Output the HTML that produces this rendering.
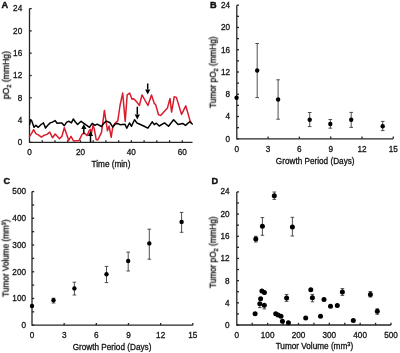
<!DOCTYPE html>
<html><head><meta charset="utf-8"><title>Tumor oxygenation figure</title>
<style>
html,body{margin:0;padding:0;background:#fff;}
body{width:400px;height:353px;overflow:hidden;}
svg{display:block;font-family:"Liberation Sans",sans-serif;filter:blur(0.3px);}
text{will-change:transform;}
</style></head>
<body>
<svg width="400" height="353" viewBox="0 0 400 353">
<rect width="400" height="353" fill="#fff"/>
<text x="1.40" y="7.60" text-anchor="start" font-size="9.2" font-weight="bold" fill="#111" stroke="#111" stroke-width="0.4" >A</text>
<path d="M29.50,8.60 V142.40 H192.51" fill="none" stroke="#262626" stroke-width="1.3"/>
<line x1="29.50" y1="142.40" x2="31.70" y2="142.40" stroke="#262626" stroke-width="1.3"/>
<line x1="29.50" y1="120.10" x2="31.70" y2="120.10" stroke="#262626" stroke-width="1.3"/>
<line x1="29.50" y1="97.80" x2="31.70" y2="97.80" stroke="#262626" stroke-width="1.3"/>
<line x1="29.50" y1="75.50" x2="31.70" y2="75.50" stroke="#262626" stroke-width="1.3"/>
<line x1="29.50" y1="53.20" x2="31.70" y2="53.20" stroke="#262626" stroke-width="1.3"/>
<line x1="29.50" y1="30.90" x2="31.70" y2="30.90" stroke="#262626" stroke-width="1.3"/>
<line x1="29.50" y1="8.60" x2="31.70" y2="8.60" stroke="#262626" stroke-width="1.3"/>
<line x1="42.23" y1="142.40" x2="42.23" y2="140.20" stroke="#262626" stroke-width="1.3"/>
<line x1="54.97" y1="142.40" x2="54.97" y2="140.20" stroke="#262626" stroke-width="1.3"/>
<line x1="67.71" y1="142.40" x2="67.71" y2="140.20" stroke="#262626" stroke-width="1.3"/>
<line x1="80.44" y1="142.40" x2="80.44" y2="140.20" stroke="#262626" stroke-width="1.3"/>
<line x1="93.18" y1="142.40" x2="93.18" y2="140.20" stroke="#262626" stroke-width="1.3"/>
<line x1="105.91" y1="142.40" x2="105.91" y2="140.20" stroke="#262626" stroke-width="1.3"/>
<line x1="118.65" y1="142.40" x2="118.65" y2="140.20" stroke="#262626" stroke-width="1.3"/>
<line x1="131.38" y1="142.40" x2="131.38" y2="140.20" stroke="#262626" stroke-width="1.3"/>
<line x1="144.12" y1="142.40" x2="144.12" y2="140.20" stroke="#262626" stroke-width="1.3"/>
<line x1="156.85" y1="142.40" x2="156.85" y2="140.20" stroke="#262626" stroke-width="1.3"/>
<line x1="169.59" y1="142.40" x2="169.59" y2="140.20" stroke="#262626" stroke-width="1.3"/>
<line x1="182.32" y1="142.40" x2="182.32" y2="140.20" stroke="#262626" stroke-width="1.3"/>
<text x="22.20" y="145.35" text-anchor="end" font-size="8.2" font-weight="normal" fill="#151515" stroke="#151515" stroke-width="0.3" >0</text>
<text x="22.20" y="123.05" text-anchor="end" font-size="8.2" font-weight="normal" fill="#151515" stroke="#151515" stroke-width="0.3" >4</text>
<text x="22.20" y="100.75" text-anchor="end" font-size="8.2" font-weight="normal" fill="#151515" stroke="#151515" stroke-width="0.3" >8</text>
<text x="22.20" y="78.45" text-anchor="end" font-size="8.2" font-weight="normal" fill="#151515" stroke="#151515" stroke-width="0.3" >12</text>
<text x="22.20" y="56.15" text-anchor="end" font-size="8.2" font-weight="normal" fill="#151515" stroke="#151515" stroke-width="0.3" >16</text>
<text x="22.20" y="33.85" text-anchor="end" font-size="8.2" font-weight="normal" fill="#151515" stroke="#151515" stroke-width="0.3" >20</text>
<text x="22.20" y="10.95" text-anchor="end" font-size="8.2" font-weight="normal" fill="#151515" stroke="#151515" stroke-width="0.3" >24</text>
<text x="29.50" y="155.30" text-anchor="middle" font-size="8.2" font-weight="normal" fill="#151515" stroke="#151515" stroke-width="0.3" >0</text>
<text x="80.44" y="155.30" text-anchor="middle" font-size="8.2" font-weight="normal" fill="#151515" stroke="#151515" stroke-width="0.3" >20</text>
<text x="131.38" y="155.30" text-anchor="middle" font-size="8.2" font-weight="normal" fill="#151515" stroke="#151515" stroke-width="0.3" >40</text>
<text x="182.32" y="155.30" text-anchor="middle" font-size="8.2" font-weight="normal" fill="#151515" stroke="#151515" stroke-width="0.3" >60</text>
<text x="111.00" y="167.20" text-anchor="middle" font-size="8.2" font-weight="normal" fill="#151515" stroke="#151515" stroke-width="0.3" >Time (min)</text>
<text transform="translate(8.90,75.20) rotate(-90)" x="0" y="0" text-anchor="middle" font-size="8.6" fill="#151515" stroke="#151515" stroke-width="0.3">pO<tspan font-size="5.6" dy="1.6">2</tspan><tspan dy="-1.6"> </tspan>(mmHg)</text>
<polyline points="29.6,136.4 31.6,133.3 33.6,129.7 35.9,133.7 38.7,135.2 41.5,137.2 44.3,135.2 47,134.4 49.8,132.1 52.5,137.8 55.2,134 59.5,138.8 61.9,136.4 64.3,127.7 66.3,133.3 68.7,140.4 71,136.4 73.5,141 79.1,140.4 82.3,134 83.9,132.9 85.1,133.7 87.1,135.6 89.1,130.9 90.3,129.3 91.4,133.3 93,125.3 94.2,128.5 96.2,139.6 97.8,140 101.5,132.4 104.4,110.4 106.1,122.2 107.5,130.8 109.1,126 111.2,137.3 112.8,126.5 115,123.3 117.8,120.9 120.1,105 122.7,93.1 125.2,121.4 127.2,94.8 129.7,93.1 132,99.3 133.7,98.8 136.5,101.6 139.4,105.5 142,94.9 147.9,105.5 151.5,94.9 154.3,103.4 155.7,104.8 158.5,114.7 160.7,115.4 167.4,108.1 170,98.5 171.6,112.1 174.2,96.8 176.4,97.4 181.5,114.4 185.8,105.9 190,120.6 191.2,122.9" fill="none" stroke="#d81c2c" stroke-width="1.5" stroke-linejoin="round" stroke-linecap="round"/>
<polyline points="29.7,124.5 30.4,119.8 31.6,120.6 34,127.3 35.9,125.3 38.3,127.3 41.1,124.5 43.5,122.9 45.5,128.1 47.8,125.3 50.2,122.9 52.4,122.1 55.2,120.6 57.1,123.3 59.5,122.9 61.9,122.9 64.3,125.7 66.7,122.1 69,121.3 71.4,122.9 73.3,119 75.2,121.7 77.6,124.5 81.1,121.3 83.9,123.3 86.7,125.3 89.5,127.3 92.2,123.3 95,125.3 97.2,124.2 101.5,126.5 104.2,122.8 106.4,121.1 110.1,122.8 112.8,127.1 115.5,123.8 118,123.6 120,124.7 125,124.3 126.8,128.2 129.5,123 131.5,126.3 134.5,119.8 137,123 143.7,126 147.9,128.2 152.2,121.8 154.3,124.6 156.4,123.2 159.2,126 164.5,122.9 168.5,126.3 173.6,119.7 178.1,124.6 182.7,123.4 185.5,125.4 189.7,121.7 192.3,124" fill="none" stroke="#000" stroke-width="1.5" stroke-linejoin="round" stroke-linecap="round"/>
<line x1="83.8" y1="134.2" x2="83.8" y2="129.0" stroke="#000" stroke-width="1.5"/>
<path d="M81.20,129.00 L86.40,129.00 L83.80,124.00 Z" fill="#000"/>
<line x1="90.5" y1="142.0" x2="90.5" y2="136.0" stroke="#000" stroke-width="1.5"/>
<path d="M87.90,136.00 L93.10,136.00 L90.50,131.00 Z" fill="#000"/>
<line x1="137.3" y1="106.7" x2="137.3" y2="114.4" stroke="#000" stroke-width="1.5"/>
<path d="M134.70,114.40 L139.90,114.40 L137.30,119.40 Z" fill="#000"/>
<line x1="147.7" y1="83.5" x2="147.7" y2="89.5" stroke="#000" stroke-width="1.5"/>
<path d="M145.10,89.50 L150.30,89.50 L147.70,94.50 Z" fill="#000"/>
<text x="210.00" y="7.70" text-anchor="start" font-size="9.2" font-weight="bold" fill="#111" stroke="#111" stroke-width="0.4" >B</text>
<path d="M236.80,5.20 V138.80 H393.30" fill="none" stroke="#262626" stroke-width="1.3"/>
<line x1="236.80" y1="138.80" x2="239.00" y2="138.80" stroke="#262626" stroke-width="1.3"/>
<line x1="236.80" y1="127.67" x2="239.00" y2="127.67" stroke="#262626" stroke-width="1.3"/>
<line x1="236.80" y1="116.53" x2="239.00" y2="116.53" stroke="#262626" stroke-width="1.3"/>
<line x1="236.80" y1="105.40" x2="239.00" y2="105.40" stroke="#262626" stroke-width="1.3"/>
<line x1="236.80" y1="94.27" x2="239.00" y2="94.27" stroke="#262626" stroke-width="1.3"/>
<line x1="236.80" y1="83.13" x2="239.00" y2="83.13" stroke="#262626" stroke-width="1.3"/>
<line x1="236.80" y1="72.00" x2="239.00" y2="72.00" stroke="#262626" stroke-width="1.3"/>
<line x1="236.80" y1="60.87" x2="239.00" y2="60.87" stroke="#262626" stroke-width="1.3"/>
<line x1="236.80" y1="49.73" x2="239.00" y2="49.73" stroke="#262626" stroke-width="1.3"/>
<line x1="236.80" y1="38.60" x2="239.00" y2="38.60" stroke="#262626" stroke-width="1.3"/>
<line x1="236.80" y1="27.47" x2="239.00" y2="27.47" stroke="#262626" stroke-width="1.3"/>
<line x1="236.80" y1="16.33" x2="239.00" y2="16.33" stroke="#262626" stroke-width="1.3"/>
<line x1="236.80" y1="5.20" x2="239.00" y2="5.20" stroke="#262626" stroke-width="1.3"/>
<line x1="268.10" y1="138.80" x2="268.10" y2="136.60" stroke="#262626" stroke-width="1.3"/>
<line x1="299.40" y1="138.80" x2="299.40" y2="136.60" stroke="#262626" stroke-width="1.3"/>
<line x1="330.70" y1="138.80" x2="330.70" y2="136.60" stroke="#262626" stroke-width="1.3"/>
<line x1="362.00" y1="138.80" x2="362.00" y2="136.60" stroke="#262626" stroke-width="1.3"/>
<line x1="393.30" y1="138.80" x2="393.30" y2="136.60" stroke="#262626" stroke-width="1.3"/>
<text x="230.00" y="141.75" text-anchor="end" font-size="8.2" font-weight="normal" fill="#151515" stroke="#151515" stroke-width="0.3" >0</text>
<text x="230.00" y="119.48" text-anchor="end" font-size="8.2" font-weight="normal" fill="#151515" stroke="#151515" stroke-width="0.3" >4</text>
<text x="230.00" y="97.22" text-anchor="end" font-size="8.2" font-weight="normal" fill="#151515" stroke="#151515" stroke-width="0.3" >8</text>
<text x="230.00" y="74.95" text-anchor="end" font-size="8.2" font-weight="normal" fill="#151515" stroke="#151515" stroke-width="0.3" >12</text>
<text x="230.00" y="52.68" text-anchor="end" font-size="8.2" font-weight="normal" fill="#151515" stroke="#151515" stroke-width="0.3" >16</text>
<text x="230.00" y="30.42" text-anchor="end" font-size="8.2" font-weight="normal" fill="#151515" stroke="#151515" stroke-width="0.3" >20</text>
<text x="230.00" y="7.55" text-anchor="end" font-size="8.2" font-weight="normal" fill="#151515" stroke="#151515" stroke-width="0.3" >24</text>
<text x="236.80" y="151.50" text-anchor="middle" font-size="8.2" font-weight="normal" fill="#151515" stroke="#151515" stroke-width="0.3" >0</text>
<text x="268.10" y="151.50" text-anchor="middle" font-size="8.2" font-weight="normal" fill="#151515" stroke="#151515" stroke-width="0.3" >3</text>
<text x="299.40" y="151.50" text-anchor="middle" font-size="8.2" font-weight="normal" fill="#151515" stroke="#151515" stroke-width="0.3" >6</text>
<text x="330.70" y="151.50" text-anchor="middle" font-size="8.2" font-weight="normal" fill="#151515" stroke="#151515" stroke-width="0.3" >9</text>
<text x="362.00" y="151.50" text-anchor="middle" font-size="8.2" font-weight="normal" fill="#151515" stroke="#151515" stroke-width="0.3" >12</text>
<text x="393.30" y="151.50" text-anchor="middle" font-size="8.2" font-weight="normal" fill="#151515" stroke="#151515" stroke-width="0.3" >15</text>
<text x="315.20" y="163.60" text-anchor="middle" font-size="8.2" font-weight="normal" fill="#151515" stroke="#151515" stroke-width="0.3" >Growth Period (Days)</text>
<text transform="translate(215.80,72.30) rotate(-90)" x="0" y="0" text-anchor="middle" font-size="8.2" fill="#151515" stroke="#151515" stroke-width="0.3">Tumor pO<tspan font-size="5.6" dy="1.6">2</tspan><tspan dy="-1.6"> </tspan>(mmHg)</text>
<path d="M257.20,43.50 V97.60 M255.40,43.50 H259.00 M255.40,97.60 H259.00" stroke="#3c3c3c" stroke-width="0.9" fill="none"/>
<path d="M278.10,79.80 V119.20 M276.30,79.80 H279.90 M276.30,119.20 H279.90" stroke="#3c3c3c" stroke-width="0.9" fill="none"/>
<path d="M309.70,112.50 V126.60 M307.90,112.50 H311.50 M307.90,126.60 H311.50" stroke="#3c3c3c" stroke-width="0.9" fill="none"/>
<path d="M330.30,119.50 V128.20 M328.50,119.50 H332.10 M328.50,128.20 H332.10" stroke="#3c3c3c" stroke-width="0.9" fill="none"/>
<path d="M351.20,112.40 V127.40 M349.40,112.40 H353.00 M349.40,127.40 H353.00" stroke="#3c3c3c" stroke-width="0.9" fill="none"/>
<path d="M382.70,121.40 V130.60 M380.90,121.40 H384.50 M380.90,130.60 H384.50" stroke="#3c3c3c" stroke-width="0.9" fill="none"/>
<circle cx="236.60" cy="97.80" r="2.2" fill="#000"/>
<circle cx="257.20" cy="70.50" r="2.2" fill="#000"/>
<circle cx="278.10" cy="99.50" r="2.2" fill="#000"/>
<circle cx="309.70" cy="119.80" r="2.2" fill="#000"/>
<circle cx="330.30" cy="124.00" r="2.2" fill="#000"/>
<circle cx="351.20" cy="119.80" r="2.2" fill="#000"/>
<circle cx="382.70" cy="126.20" r="2.2" fill="#000"/>
<text x="3.50" y="183.70" text-anchor="start" font-size="9.2" font-weight="bold" fill="#111" stroke="#111" stroke-width="0.4" >C</text>
<path d="M32.00,191.60 V325.20 H192.80" fill="none" stroke="#262626" stroke-width="1.3"/>
<line x1="32.00" y1="325.20" x2="34.20" y2="325.20" stroke="#262626" stroke-width="1.3"/>
<line x1="32.00" y1="311.84" x2="34.20" y2="311.84" stroke="#262626" stroke-width="1.3"/>
<line x1="32.00" y1="298.48" x2="34.20" y2="298.48" stroke="#262626" stroke-width="1.3"/>
<line x1="32.00" y1="285.12" x2="34.20" y2="285.12" stroke="#262626" stroke-width="1.3"/>
<line x1="32.00" y1="271.76" x2="34.20" y2="271.76" stroke="#262626" stroke-width="1.3"/>
<line x1="32.00" y1="258.40" x2="34.20" y2="258.40" stroke="#262626" stroke-width="1.3"/>
<line x1="32.00" y1="245.04" x2="34.20" y2="245.04" stroke="#262626" stroke-width="1.3"/>
<line x1="32.00" y1="231.68" x2="34.20" y2="231.68" stroke="#262626" stroke-width="1.3"/>
<line x1="32.00" y1="218.32" x2="34.20" y2="218.32" stroke="#262626" stroke-width="1.3"/>
<line x1="32.00" y1="204.96" x2="34.20" y2="204.96" stroke="#262626" stroke-width="1.3"/>
<line x1="32.00" y1="191.60" x2="34.20" y2="191.60" stroke="#262626" stroke-width="1.3"/>
<line x1="64.16" y1="325.20" x2="64.16" y2="323.00" stroke="#262626" stroke-width="1.3"/>
<line x1="96.32" y1="325.20" x2="96.32" y2="323.00" stroke="#262626" stroke-width="1.3"/>
<line x1="128.48" y1="325.20" x2="128.48" y2="323.00" stroke="#262626" stroke-width="1.3"/>
<line x1="160.64" y1="325.20" x2="160.64" y2="323.00" stroke="#262626" stroke-width="1.3"/>
<line x1="192.80" y1="325.20" x2="192.80" y2="323.00" stroke="#262626" stroke-width="1.3"/>
<text x="26.00" y="328.15" text-anchor="end" font-size="8.2" font-weight="normal" fill="#151515" stroke="#151515" stroke-width="0.3" >0</text>
<text x="26.00" y="301.43" text-anchor="end" font-size="8.2" font-weight="normal" fill="#151515" stroke="#151515" stroke-width="0.3" >100</text>
<text x="26.00" y="274.71" text-anchor="end" font-size="8.2" font-weight="normal" fill="#151515" stroke="#151515" stroke-width="0.3" >200</text>
<text x="26.00" y="247.99" text-anchor="end" font-size="8.2" font-weight="normal" fill="#151515" stroke="#151515" stroke-width="0.3" >300</text>
<text x="26.00" y="221.27" text-anchor="end" font-size="8.2" font-weight="normal" fill="#151515" stroke="#151515" stroke-width="0.3" >400</text>
<text x="26.00" y="193.95" text-anchor="end" font-size="8.2" font-weight="normal" fill="#151515" stroke="#151515" stroke-width="0.3" >500</text>
<text x="32.00" y="337.60" text-anchor="middle" font-size="8.2" font-weight="normal" fill="#151515" stroke="#151515" stroke-width="0.3" >0</text>
<text x="64.16" y="337.60" text-anchor="middle" font-size="8.2" font-weight="normal" fill="#151515" stroke="#151515" stroke-width="0.3" >3</text>
<text x="96.32" y="337.60" text-anchor="middle" font-size="8.2" font-weight="normal" fill="#151515" stroke="#151515" stroke-width="0.3" >6</text>
<text x="128.48" y="337.60" text-anchor="middle" font-size="8.2" font-weight="normal" fill="#151515" stroke="#151515" stroke-width="0.3" >9</text>
<text x="160.64" y="337.60" text-anchor="middle" font-size="8.2" font-weight="normal" fill="#151515" stroke="#151515" stroke-width="0.3" >12</text>
<text x="192.80" y="337.60" text-anchor="middle" font-size="8.2" font-weight="normal" fill="#151515" stroke="#151515" stroke-width="0.3" >15</text>
<text x="112.00" y="349.60" text-anchor="middle" font-size="8.2" font-weight="normal" fill="#151515" stroke="#151515" stroke-width="0.3" >Growth Period (Days)</text>
<text transform="translate(8.60,258.20) rotate(-90)" x="0" y="0" text-anchor="middle" font-size="8.2" fill="#151515" stroke="#151515" stroke-width="0.3">Tumor Volume (mm<tspan font-size="5.6" dy="-3">3</tspan><tspan dy="3">)</tspan></text>
<path d="M53.50,298.20 V303.00 M51.70,298.20 H55.30 M51.70,303.00 H55.30" stroke="#3c3c3c" stroke-width="0.9" fill="none"/>
<path d="M74.40,282.20 V295.00 M72.60,282.20 H76.20 M72.60,295.00 H76.20" stroke="#3c3c3c" stroke-width="0.9" fill="none"/>
<path d="M106.50,266.40 V282.60 M104.70,266.40 H108.30 M104.70,282.60 H108.30" stroke="#3c3c3c" stroke-width="0.9" fill="none"/>
<path d="M128.20,252.10 V271.00 M126.40,252.10 H130.00 M126.40,271.00 H130.00" stroke="#3c3c3c" stroke-width="0.9" fill="none"/>
<path d="M149.30,229.20 V259.20 M147.50,229.20 H151.10 M147.50,259.20 H151.10" stroke="#3c3c3c" stroke-width="0.9" fill="none"/>
<path d="M181.60,212.40 V232.30 M179.80,212.40 H183.40 M179.80,232.30 H183.40" stroke="#3c3c3c" stroke-width="0.9" fill="none"/>
<circle cx="32.00" cy="306.00" r="2.2" fill="#000"/>
<circle cx="53.50" cy="300.20" r="2.2" fill="#000"/>
<circle cx="74.40" cy="288.40" r="2.2" fill="#000"/>
<circle cx="106.50" cy="274.30" r="2.2" fill="#000"/>
<circle cx="128.20" cy="261.00" r="2.2" fill="#000"/>
<circle cx="149.30" cy="243.40" r="2.2" fill="#000"/>
<circle cx="181.60" cy="221.90" r="2.2" fill="#000"/>
<text x="211.60" y="184.40" text-anchor="start" font-size="9.2" font-weight="bold" fill="#111" stroke="#111" stroke-width="0.4" >D</text>
<path d="M236.80,191.90 V325.00 H391.00" fill="none" stroke="#262626" stroke-width="1.3"/>
<line x1="236.80" y1="325.00" x2="239.00" y2="325.00" stroke="#262626" stroke-width="1.3"/>
<line x1="236.80" y1="313.91" x2="239.00" y2="313.91" stroke="#262626" stroke-width="1.3"/>
<line x1="236.80" y1="302.82" x2="239.00" y2="302.82" stroke="#262626" stroke-width="1.3"/>
<line x1="236.80" y1="291.73" x2="239.00" y2="291.73" stroke="#262626" stroke-width="1.3"/>
<line x1="236.80" y1="280.63" x2="239.00" y2="280.63" stroke="#262626" stroke-width="1.3"/>
<line x1="236.80" y1="269.54" x2="239.00" y2="269.54" stroke="#262626" stroke-width="1.3"/>
<line x1="236.80" y1="258.45" x2="239.00" y2="258.45" stroke="#262626" stroke-width="1.3"/>
<line x1="236.80" y1="247.36" x2="239.00" y2="247.36" stroke="#262626" stroke-width="1.3"/>
<line x1="236.80" y1="236.27" x2="239.00" y2="236.27" stroke="#262626" stroke-width="1.3"/>
<line x1="236.80" y1="225.18" x2="239.00" y2="225.18" stroke="#262626" stroke-width="1.3"/>
<line x1="236.80" y1="214.08" x2="239.00" y2="214.08" stroke="#262626" stroke-width="1.3"/>
<line x1="236.80" y1="202.99" x2="239.00" y2="202.99" stroke="#262626" stroke-width="1.3"/>
<line x1="236.80" y1="191.90" x2="239.00" y2="191.90" stroke="#262626" stroke-width="1.3"/>
<line x1="252.22" y1="325.00" x2="252.22" y2="322.80" stroke="#262626" stroke-width="1.3"/>
<line x1="267.64" y1="325.00" x2="267.64" y2="322.80" stroke="#262626" stroke-width="1.3"/>
<line x1="283.06" y1="325.00" x2="283.06" y2="322.80" stroke="#262626" stroke-width="1.3"/>
<line x1="298.48" y1="325.00" x2="298.48" y2="322.80" stroke="#262626" stroke-width="1.3"/>
<line x1="313.90" y1="325.00" x2="313.90" y2="322.80" stroke="#262626" stroke-width="1.3"/>
<line x1="329.32" y1="325.00" x2="329.32" y2="322.80" stroke="#262626" stroke-width="1.3"/>
<line x1="344.74" y1="325.00" x2="344.74" y2="322.80" stroke="#262626" stroke-width="1.3"/>
<line x1="360.16" y1="325.00" x2="360.16" y2="322.80" stroke="#262626" stroke-width="1.3"/>
<line x1="375.58" y1="325.00" x2="375.58" y2="322.80" stroke="#262626" stroke-width="1.3"/>
<line x1="391.00" y1="325.00" x2="391.00" y2="322.80" stroke="#262626" stroke-width="1.3"/>
<text x="229.60" y="327.95" text-anchor="end" font-size="8.2" font-weight="normal" fill="#151515" stroke="#151515" stroke-width="0.3" >0</text>
<text x="229.60" y="305.77" text-anchor="end" font-size="8.2" font-weight="normal" fill="#151515" stroke="#151515" stroke-width="0.3" >4</text>
<text x="229.60" y="283.58" text-anchor="end" font-size="8.2" font-weight="normal" fill="#151515" stroke="#151515" stroke-width="0.3" >8</text>
<text x="229.60" y="261.40" text-anchor="end" font-size="8.2" font-weight="normal" fill="#151515" stroke="#151515" stroke-width="0.3" >12</text>
<text x="229.60" y="239.22" text-anchor="end" font-size="8.2" font-weight="normal" fill="#151515" stroke="#151515" stroke-width="0.3" >16</text>
<text x="229.60" y="217.03" text-anchor="end" font-size="8.2" font-weight="normal" fill="#151515" stroke="#151515" stroke-width="0.3" >20</text>
<text x="229.60" y="194.25" text-anchor="end" font-size="8.2" font-weight="normal" fill="#151515" stroke="#151515" stroke-width="0.3" >24</text>
<text x="236.80" y="337.80" text-anchor="middle" font-size="8.2" font-weight="normal" fill="#151515" stroke="#151515" stroke-width="0.3" >0</text>
<text x="267.64" y="337.80" text-anchor="middle" font-size="8.2" font-weight="normal" fill="#151515" stroke="#151515" stroke-width="0.3" >100</text>
<text x="298.48" y="337.80" text-anchor="middle" font-size="8.2" font-weight="normal" fill="#151515" stroke="#151515" stroke-width="0.3" >200</text>
<text x="329.32" y="337.80" text-anchor="middle" font-size="8.2" font-weight="normal" fill="#151515" stroke="#151515" stroke-width="0.3" >300</text>
<text x="360.16" y="337.80" text-anchor="middle" font-size="8.2" font-weight="normal" fill="#151515" stroke="#151515" stroke-width="0.3" >400</text>
<text x="391.00" y="337.80" text-anchor="middle" font-size="8.2" font-weight="normal" fill="#151515" stroke="#151515" stroke-width="0.3" >500</text>
<text x="314.40" y="349.30" text-anchor="middle" font-size="8.2" font-weight="normal" fill="#151515" stroke="#151515" stroke-width="0.3" >Tumor Volume (mm<tspan font-size="5.6" dy="-3">3</tspan><tspan dy="3">)</tspan></text>
<text transform="translate(215.80,252.30) rotate(-90)" x="0" y="0" text-anchor="middle" font-size="8.2" fill="#151515" stroke="#151515" stroke-width="0.3">Tumor pO<tspan font-size="5.6" dy="1.6">2</tspan><tspan dy="-1.6"> </tspan>(mmHg)</text>
<path d="M274.30,192.00 V199.40 M272.50,192.00 H276.10 M272.50,199.40 H276.10" stroke="#3c3c3c" stroke-width="0.9" fill="none"/>
<path d="M262.40,217.60 V235.30 M260.60,217.60 H264.20 M260.60,235.30 H264.20" stroke="#3c3c3c" stroke-width="0.9" fill="none"/>
<path d="M292.40,217.30 V236.00 M290.60,217.30 H294.20 M290.60,236.00 H294.20" stroke="#3c3c3c" stroke-width="0.9" fill="none"/>
<path d="M255.80,236.30 V242.00 M254.00,236.30 H257.60 M254.00,242.00 H257.60" stroke="#3c3c3c" stroke-width="0.9" fill="none"/>
<path d="M259.80,303.70 V307.60 M258.00,303.70 H261.60 M258.00,307.60 H261.60" stroke="#3c3c3c" stroke-width="0.9" fill="none"/>
<path d="M264.30,305.20 V308.90 M262.50,305.20 H266.10 M262.50,308.90 H266.10" stroke="#3c3c3c" stroke-width="0.9" fill="none"/>
<path d="M286.60,294.50 V301.40 M284.80,294.50 H288.40 M284.80,301.40 H288.40" stroke="#3c3c3c" stroke-width="0.9" fill="none"/>
<path d="M312.40,294.40 V301.80 M310.60,294.40 H314.20 M310.60,301.80 H314.20" stroke="#3c3c3c" stroke-width="0.9" fill="none"/>
<path d="M342.40,288.60 V295.40 M340.60,288.60 H344.20 M340.60,295.40 H344.20" stroke="#3c3c3c" stroke-width="0.9" fill="none"/>
<path d="M370.40,291.50 V297.00 M368.60,291.50 H372.20 M368.60,297.00 H372.20" stroke="#3c3c3c" stroke-width="0.9" fill="none"/>
<path d="M377.30,308.80 V314.30 M375.50,308.80 H379.10 M375.50,314.30 H379.10" stroke="#3c3c3c" stroke-width="0.9" fill="none"/>
<circle cx="274.30" cy="195.70" r="2.5" fill="#000"/>
<circle cx="262.40" cy="226.30" r="2.5" fill="#000"/>
<circle cx="292.40" cy="227.00" r="2.5" fill="#000"/>
<circle cx="255.80" cy="238.90" r="2.5" fill="#000"/>
<circle cx="261.90" cy="291.00" r="2.5" fill="#000"/>
<circle cx="264.40" cy="292.40" r="2.5" fill="#000"/>
<circle cx="260.60" cy="298.70" r="2.5" fill="#000"/>
<circle cx="259.80" cy="303.70" r="2.5" fill="#000"/>
<circle cx="264.30" cy="305.20" r="2.5" fill="#000"/>
<circle cx="255.10" cy="313.80" r="2.5" fill="#000"/>
<circle cx="275.70" cy="313.70" r="2.5" fill="#000"/>
<circle cx="278.10" cy="315.10" r="2.5" fill="#000"/>
<circle cx="281.00" cy="316.20" r="2.5" fill="#000"/>
<circle cx="282.40" cy="321.20" r="2.5" fill="#000"/>
<circle cx="288.40" cy="322.80" r="2.5" fill="#000"/>
<circle cx="286.60" cy="297.90" r="2.5" fill="#000"/>
<circle cx="310.80" cy="289.70" r="2.5" fill="#000"/>
<circle cx="312.40" cy="297.70" r="2.5" fill="#000"/>
<circle cx="305.70" cy="318.00" r="2.5" fill="#000"/>
<circle cx="320.50" cy="316.20" r="2.5" fill="#000"/>
<circle cx="324.00" cy="299.60" r="2.5" fill="#000"/>
<circle cx="330.50" cy="306.20" r="2.5" fill="#000"/>
<circle cx="337.30" cy="305.40" r="2.5" fill="#000"/>
<circle cx="342.40" cy="292.00" r="2.5" fill="#000"/>
<circle cx="353.30" cy="320.40" r="2.5" fill="#000"/>
<circle cx="370.40" cy="294.50" r="2.5" fill="#000"/>
<circle cx="377.30" cy="311.30" r="2.5" fill="#000"/>
</svg>
</body></html>
